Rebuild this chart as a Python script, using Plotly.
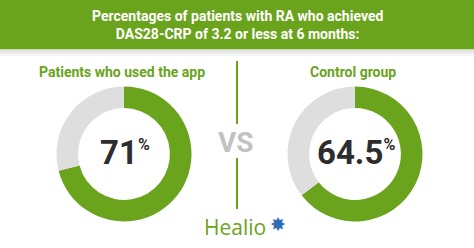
import plotly.graph_objects as go

groups = ["Patients who used the app", "Control group"]
achieved = [71, 64.5]
value_labels = ["71", "64.5"]
title_lines = ["Percentages of patients with RA who achieved", "DAS28-CRP of 3.2 or less at 6 months:"]

GREEN = "#6aa31c"
GRAY = "#dedede"
W, H = 474, 248

def px(x):
    return x / W

def py(y):
    return 1 - y / H

centers = [(124, 154), (355, 154)]
R = 67.5

fig = go.Figure()

def note(x, y, text, size, color, family="Roboto", xanchor="center"):
    fig.add_annotation(x=px(x), y=py(y), xref="paper", yref="paper", text=text,
                       showarrow=False, xanchor=xanchor, yanchor="middle",
                       font=dict(family=family, size=size, color=color))

for i, (g, v) in enumerate(zip(groups, achieved)):
    cx, cy = centers[i]
    fig.add_trace(go.Pie(
        values=[v, 100 - v],
        labels=["Achieved", "Not achieved"],
        marker=dict(colors=[GREEN, GRAY], line=dict(width=0)),
        hole=0.68,
        sort=False,
        direction="clockwise",
        rotation=0,
        textinfo="none",
        hoverinfo="skip",
        showlegend=False,
        domain=dict(x=[px(cx - R), px(cx + R)], y=[py(cy + R), py(cy - R)]),
    ))
    note(cx - 2, 72, "<b>%s</b>" % g, 14, GREEN)
    note(cx + 1, 152, "<b>%s</b><sup><span style='font-size:16px'><b>%%</b></span></sup>" % value_labels[i],
         33, "#2d2d30")

shapes = [
    dict(type="rect", xref="paper", yref="paper", x0=0, x1=1, y0=py(49.5), y1=1,
         fillcolor=GREEN, line=dict(width=0), layer="below"),
    dict(type="rect", xref="paper", yref="paper", x0=0, x1=1, y0=py(53), y1=py(49.5),
         fillcolor="#e6e6e6", line=dict(width=0), layer="below"),
    dict(type="rect", xref="paper", yref="paper", x0=0, x1=1, y0=py(56), y1=py(53),
         fillcolor="#f4f4f4", line=dict(width=0), layer="below"),
    dict(type="line", xref="paper", yref="paper", x0=px(237), x1=px(237), y0=py(61), y1=py(124),
         line=dict(color=GREEN, width=2)),
    dict(type="line", xref="paper", yref="paper", x0=px(237), x1=px(237), y0=py(158), y1=py(209),
         line=dict(color=GREEN, width=2)),
]

note(237, 25.5, "<b>%s</b><br><b>%s</b>" % tuple(title_lines), 14, "white")
note(236, 142, "<b>VS</b>", 28, "#c2c2c2")
note(235, 227, "Healio", 21, GREEN, family="Open Sans, Roboto")
note(278, 224, "✸", 19, "#2d6db5", family="DejaVu Sans")

fig.update_layout(width=W, height=H, margin=dict(l=0, r=0, t=0, b=0),
                  paper_bgcolor="white", plot_bgcolor="white", shapes=shapes)
fig.write_html("out.html")
